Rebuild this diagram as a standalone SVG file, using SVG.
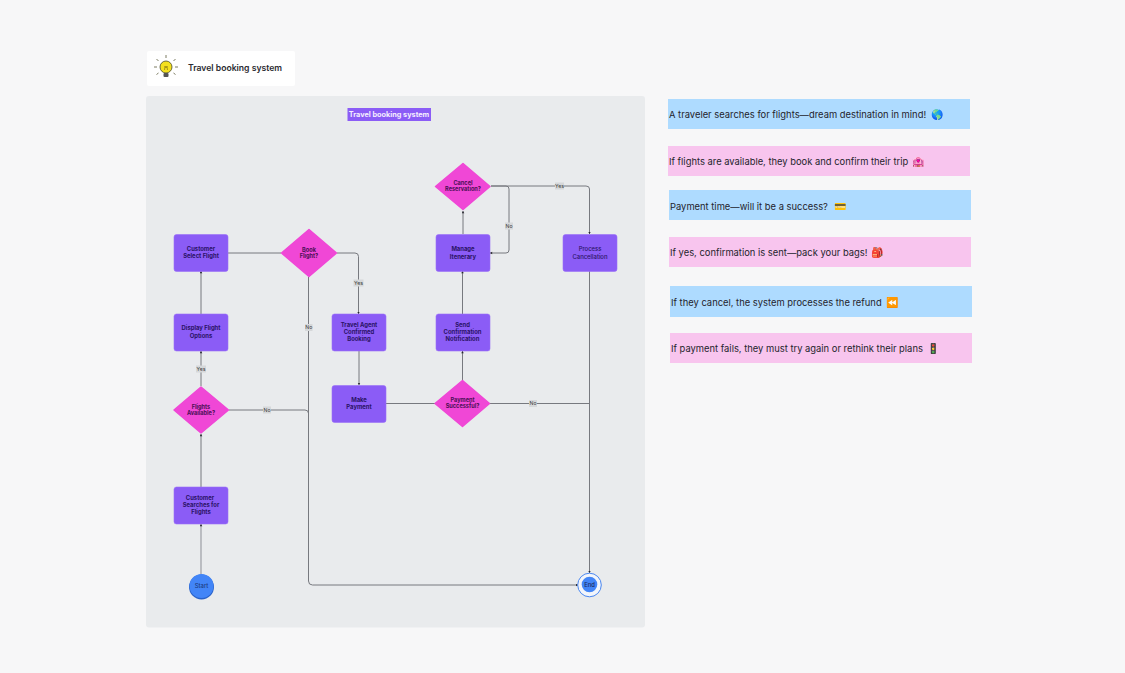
<svg xmlns="http://www.w3.org/2000/svg" width="1125" height="673" viewBox="0 0 1125 673">
<defs>
<marker id="dot" markerWidth="4" markerHeight="4" refX="2.500" refY="1.500" orient="auto" markerUnits="userSpaceOnUse"><path d="M0.300 0.200L2.600 1.500L0.300 2.800Z" fill="#26262e"/></marker>
</defs>
<style>
text{font-family:Inter,"Liberation Sans",sans-serif}
.n{fill:#8b5cf6;stroke:#9a70f8;stroke-width:.6}
.d{fill:#f047d6;stroke:#f047d6;stroke-linejoin:round;stroke-width:1.500}
.t{font-size:5.900px;font-weight:700;fill:#2a1266;text-anchor:middle}
.dt{font-size:5.600px;font-weight:700;fill:#4a0f55;text-anchor:middle}
.c{fill:none;stroke:#77797f;stroke-width:1;marker-end:url(#dot)}
.p{fill:none;stroke:#77797f;stroke-width:1}
.lb{fill:#d6d8da}
.l{font-size:5.200px;fill:#3c3c3c;text-anchor:middle}
.note{font-size:9.400px;fill:#24242c}
.e{font-size:10px}
.blue{fill:#aedbff}
.pink{fill:#f8c5ee}
</style>
<rect width="1125" height="673" fill="#f7f7f8"/>
<g id="header">
<rect x="147" y="51" width="148" height="35" rx="2" fill="#fff"/>
<g id="bulb">
<circle cx="166" cy="67" r="6" fill="#f4e01e" stroke="#4a4a2a" stroke-width=".8"/>
<rect x="163.500" y="73" width="5" height="4" rx="1" fill="#555"/>
<path d="M166 58v-3M158.500 61l-2-2M173.500 61l2-2M157 67h-3M175 67h3M158.500 73l-2 1.500M173.500 73l2 1.500" stroke="#5a5a3a" stroke-width=".8"/>
<path d="M164.500 70l.5-4 1 2 1-2 .5 4" fill="none" stroke="#7a6a10" stroke-width=".6"/>
</g>
<text x="188" y="71" font-size="8.650" font-weight="600" fill="#2a2a30">Travel booking system</text>
</g>
<rect id="panel" x="146" y="96" width="499" height="531.500" rx="3" fill="#e9ebed"/>
<g id="title">
<rect x="347.500" y="108" width="83.500" height="13" fill="#8b5cf6"/>
<text x="389" y="117.200" font-size="7.300" font-weight="700" fill="#f4eeff" text-anchor="middle">Travel booking system</text>
</g>
<g id="connectors">
<path class="c" d="M201 574V524" style="stroke:#a2a4aa;stroke-width:1.300"/>
<path class="c" d="M201 487V434"/>
<path class="c" d="M201 386V351"/>
<path class="c" d="M201 314V271"/>
<path class="p" d="M228 253H281"/>
<path class="c" d="M337 253H355Q358.500 253 358.500 256.500V314"/>
<path class="c" d="M359 351V385"/>
<path class="p" d="M386 403.500H435"/>
<path class="c" d="M462.500 380V351"/>
<path class="c" d="M462.500 314V271"/>
<path class="c" d="M463 234V211"/>
<path class="c" d="M491 186H506Q509 186 509 189V250Q509 253 506 253H490"/>
<path class="c" d="M491 186H586Q589.500 186 589.500 189V234"/>
<path class="c" d="M589.500 271V573"/>
<path class="p" d="M229 410H305Q308.500 410 308.500 413.500"/>
<path class="c" d="M308.500 277V581Q308.500 585 312.500 585H578"/>
<path class="p" d="M490 403.500H589.500"/>
</g>
<g id="connector-labels">
<rect class="lb" x="196" y="365.500" width="10" height="7"/><text class="l" x="201" y="370.900">Yes</text>
<rect class="lb" x="353.500" y="279.500" width="10" height="7"/><text class="l" x="358.500" y="284.900">Yes</text>
<rect class="lb" x="305" y="324" width="7.500" height="7"/><text class="l" x="308.800" y="329.400">No</text>
<rect class="lb" x="263" y="406.500" width="8" height="7"/><text class="l" x="267" y="411.900">No</text>
<rect class="lb" x="529" y="400" width="8" height="7"/><text class="l" x="533" y="405.400">No</text>
<rect class="lb" x="505" y="222.500" width="8" height="7"/><text class="l" x="509" y="227.900">No</text>
<rect class="lb" x="555" y="182.500" width="9" height="7"/><text class="l" x="559.500" y="187.900">Yes</text>
</g>
<g id="customer-select-flight"><rect class="n" x="174" y="234.500" width="54" height="37" rx="2.500"/><text class="t" x="201" y="251">Customer</text><text class="t" x="201" y="258.300">Select Flight</text></g>
<g id="display-flight-options"><rect class="n" x="174" y="314" width="54" height="37" rx="2.500"/><text class="t" x="201" y="330">Display Flight</text><text class="t" x="201" y="337.500">Options</text></g>
<g id="customer-searches"><rect class="n" x="174" y="487" width="54" height="37" rx="2.500"/><text class="t" x="200" y="499.500">Customer</text><text class="t" x="201" y="507">Searches for</text><text class="t" x="201" y="514">Flights</text></g>
<g id="travel-agent"><rect class="n" x="332" y="314" width="54" height="37" rx="2.500"/><text class="t" x="359" y="326.500">Travel Agent</text><text class="t" x="359" y="334">Confirmed</text><text class="t" x="359" y="341">Booking</text></g>
<g id="make-payment"><rect class="n" x="332" y="385.500" width="54" height="37" rx="2.500"/><text class="t" x="359" y="401.500">Make</text><text class="t" x="359" y="408.800">Payment</text></g>
<g id="send-confirmation"><rect class="n" x="436" y="314" width="54" height="37" rx="2.500"/><text class="t" x="462.500" y="326.500">Send</text><text class="t" x="462.500" y="334">Confirmation</text><text class="t" x="462.500" y="341">Notification</text></g>
<g id="manage-itenerary"><rect class="n" x="436" y="234.500" width="54" height="37" rx="2.500"/><text class="t" x="463" y="251">Manage</text><text class="t" x="463" y="258.500">Itenerary</text></g>
<g id="process-cancellation"><rect class="n" x="563" y="234.500" width="54" height="37" rx="2.500"/><text x="590" y="251" font-size="5.900" font-weight="500" fill="#2a1266" text-anchor="middle">Process</text><text x="590" y="258.500" font-size="5.900" font-weight="500" fill="#2a1266" text-anchor="middle">Cancellation</text></g>
<g id="book-flight"><path class="d" d="M309 229.500L336.500 253L309 276.500L281.500 253Z"/><text class="dt" x="309" y="251.500">Book</text><text class="dt" x="309" y="258">Flight?</text></g>
<g id="flights-available"><path class="d" d="M201 387L228.500 410L201 433L174 410Z"/><text class="dt" x="201" y="408.500">Flights</text><text class="dt" x="201" y="415">Available?</text></g>
<g id="cancel-reservation"><path class="d" d="M463 163.500L490 186.500L463 209.500L435.500 186.500Z"/><text class="dt" x="463" y="185">Cancel</text><text class="dt" x="463" y="191">Reservation?</text></g>
<g id="payment-successful"><path class="d" d="M462.500 380.500L489.500 403.500L462.500 426.500L435 403.500Z"/><text class="dt" x="462.500" y="402.300">Payment</text><text class="dt" x="462.500" y="408.300">Successful?</text></g>
<g id="start"><circle cx="201.500" cy="587" r="12.500" fill="#2a62c8"/><circle cx="201.500" cy="586" r="12" fill="#4285f7"/><text x="201.500" y="588" font-size="5.900" font-weight="500" fill="#1c3a80" text-anchor="middle">Start</text></g>
<g id="end"><circle cx="589.500" cy="585" r="11.800" fill="#f2f5fb" stroke="#4a87f0" stroke-width="1"/><circle cx="589.500" cy="584.500" r="7.800" fill="#4285f7"/><text x="589.500" y="587" font-size="5.900" font-weight="500" fill="#1c2a60" text-anchor="middle">End</text></g>
<g id="note-1"><rect class="blue" x="668" y="99" width="302" height="30"/><text class="note" x="669" y="118.300">A traveler searches for flights—dream destination in mind! <tspan class="e" x="931">🌎</tspan></text></g>
<g id="note-2"><rect class="pink" x="668" y="146" width="302" height="30"/><text class="note" x="669" y="165">If flights are available, they book and confirm their trip <tspan class="e" x="912">🏩</tspan></text></g>
<g id="note-3"><rect class="blue" x="669" y="190" width="302" height="30"/><text class="note" x="670" y="209.500">Payment time—will it be a success? <tspan class="e" x="834">💳</tspan></text></g>
<g id="note-4"><rect class="pink" x="669" y="237" width="302" height="30"/><text class="note" x="670" y="256">If yes, confirmation is sent—pack your bags! <tspan class="e" x="871">🎒</tspan></text></g>
<g id="note-5"><rect class="blue" x="670" y="286" width="302" height="31"/><text class="note" x="671" y="305.500">If they cancel, the system processes the refund <tspan class="e" x="886">⏪</tspan></text></g>
<g id="note-6"><rect class="pink" x="670" y="333" width="302" height="30"/><text class="note" x="671" y="352.300">If payment fails, they must try again or rethink their plans <tspan class="e" x="927">🚦</tspan></text></g>
</svg>
